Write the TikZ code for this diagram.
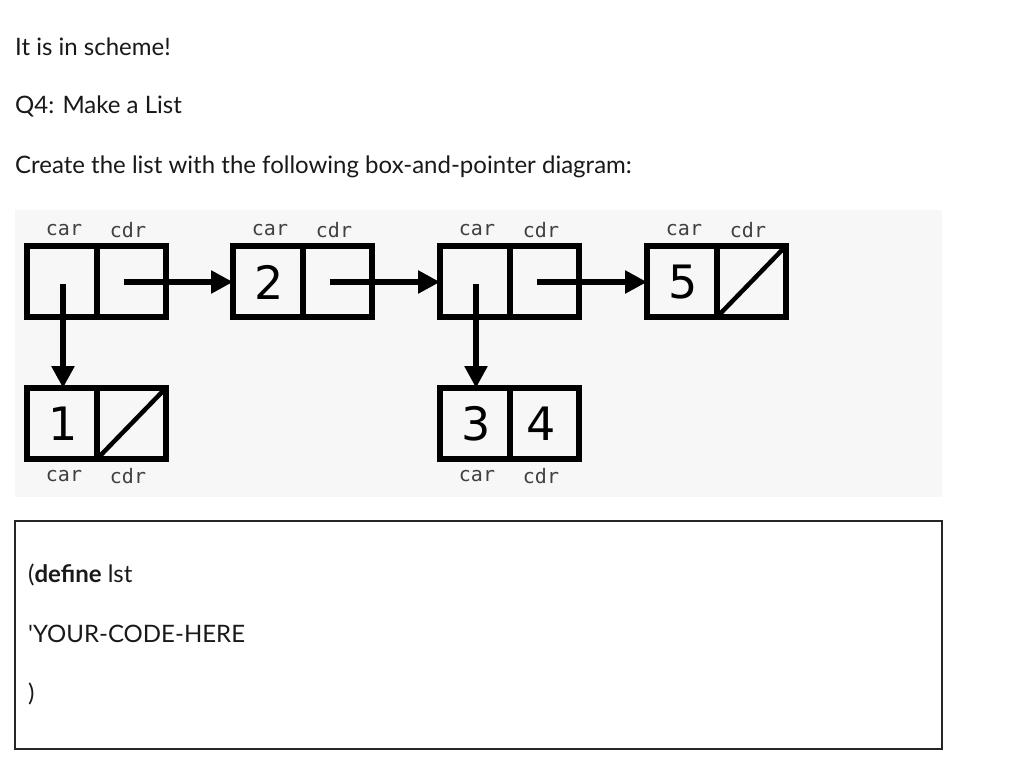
\documentclass[tikz,border=0pt]{standalone}
\usepackage{fontspec}
\setmainfont{Lato}
\newfontfamily\plainlato{Lato}
\newfontfamily\dvs{DejaVu Sans}
\newfontfamily\dvm{DejaVu Sans Mono}
\usetikzlibrary{arrows.meta}
\begin{document}
\begin{tikzpicture}[x=1pt,y=-1pt,
  bx/.style={draw=black,line width=6pt},
  ptr/.style={line width=5.5pt,-{Triangle[length=22pt,width=22pt]}},
  lbl/.style={font=\dvm\fontsize{20}{20}\selectfont,text=black!75},
  num/.style={font=\dvs\fontsize{46}{46}\selectfont},
  txt/.style={anchor=west,font=\fontsize{24}{28}\selectfont,text=black!90,inner sep=0}]
\useasboundingbox (0,0) rectangle (1024,770);
\fill[white] (0,0) rectangle (1024,770);
\node[txt] (t1) at (15,47) {It is in scheme!};
\node[txt] (t2) at (15,106) {Q4: Make a List};
\node[txt] (t3) at (15,167) {Create the list with the following box-and-pointer diagram:};
\fill[black!3] (15,210) rectangle (942,497);
% cons cells
\foreach \n/\x/\y in {a/27/246, b/233/246, c/440/246, d/647/246, e/27/388, f/440/388}{
  \draw[bx] (\x,\y) rectangle ++(139,71);
  \draw[bx] (\x+70,\y) -- ++(0,71);
  \coordinate (\n car) at (\x+36,\y+36);
  \coordinate (\n cdr) at (\x+101,\y+36);
  \coordinate (\n top) at (\x+36,\y);
  \coordinate (\n left) at (\x,\y+36);
}
\foreach \x in {27,233,440,647}{
  \node[lbl] (l\x a) at (\x+37,230) {car};
  \node[lbl] (l\x d) at (\x+101,230) {cdr};
}
\foreach \x in {27,440}{
  \node[lbl] (m\x a) at (\x+37,476) {car};
  \node[lbl] (m\x d) at (\x+101,476) {cdr};
}
\node[num] (n2) at (bcar) {2};
\node[num] (n5) at (dcar) {5};
\node[num] (n1) at (ecar) {1};
\node[num] (n3) at (fcar) {3};
\node[num] (n4) at (fcdr) {4};
\draw[line width=4.5pt] (717,317) -- (784,248);
\draw[line width=4.5pt] (97,459) -- (164,390);
\draw[ptr] ([yshift=-2pt]acar) -- (etop);
\draw[ptr] ([yshift=-2pt]ccar) -- (ftop);
\draw[ptr] ([xshift=-4pt]acdr) -- (bleft);
\draw[ptr] ([xshift=-4pt]bcdr) -- (cleft);
\draw[ptr] ([xshift=-4pt]ccdr) -- (dleft);
% code box
\draw[line width=1.2pt,black!85] (15,521) rectangle (942,749);
\node[txt] (c1) at (28,575) {(\textbf{define} lst};
\node[txt] (c2) at (28,634) {{\plainlato'}YOUR-CODE-HERE};
\node[txt] (c3) at (28,694) {)};
\end{tikzpicture}
\end{document}
